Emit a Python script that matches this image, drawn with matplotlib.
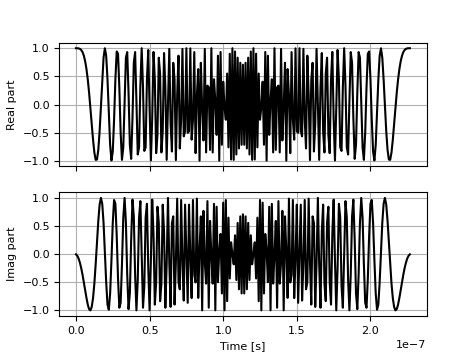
import numpy as np
import matplotlib
matplotlib.use("Agg")
import matplotlib.pyplot as plt

# chirp parameters
n_samples = 255
fs = 1.12e9                      # sample rate [Hz]
chirp_rate = fs**2 / n_samples   # [Hz/s], sweeps one full fs over the pulse

t = np.arange(n_samples) / fs
# phase evaluated at the sample centres
signal = np.exp(-1j * np.pi * chirp_rate * (t + 0.5 / fs)**2)

fig, (ax1, ax2) = plt.subplots(2, 1, sharex=True, figsize=(4.74, 3.55), dpi=100)
fig.subplots_adjust(left=0.125, right=0.90, top=0.88, bottom=0.11, hspace=0.21)

ax1.plot(t, signal.real, color="k")
ax1.set_ylabel("Real part", fontsize=8)
ax1.grid(True)

ax2.plot(t, signal.imag, color="k")
ax2.set_ylabel("Imag part", fontsize=8)
ax2.set_xlabel("Time [s]", fontsize=8)
ax2.grid(True)

for ax in (ax1, ax2):
    ax.tick_params(labelsize=8)
ax2.xaxis.get_offset_text().set_fontsize(8)

fig.savefig("out.png")
